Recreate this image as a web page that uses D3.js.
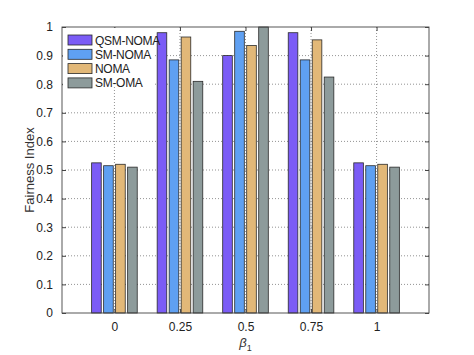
<!DOCTYPE html>
<html><head><meta charset="utf-8">
<script src="https://cdn.jsdelivr.net/npm/d3@7"></script>
<style>body{margin:0;background:#fff}svg{display:block}text{font-family:"Liberation Sans",Arial,sans-serif}</style>
</head><body><svg id="c" width="474" height="355"></svg>
<script>
const categories = [0, 0.25, 0.5, 0.75, 1];
const categoryLabels = ["0", "0.25", "0.5", "0.75", "1"];
const seriesNames = ["QSM-NOMA", "SM-NOMA", "NOMA", "SM-OMA"];
const qsmNoma = [0.525, 0.980, 0.900, 0.980, 0.525];
const smNoma  = [0.515, 0.885, 0.985, 0.885, 0.515];
const noma    = [0.520, 0.965, 0.935, 0.955, 0.520];
const smOma   = [0.510, 0.810, 1.000, 0.825, 0.510];
const seriesValues = [qsmNoma, smNoma, noma, smOma];
const colors = ["#7b5cf6", "#5fa0f2", "#e2b878", "#8d9b9b"];
const yTicks = [0,0.1,0.2,0.3,0.4,0.5,0.6,0.7,0.8,0.9,1];

const svg = d3.select("#c");
const L = 62, R = 429, T = 27, B = 313;
const x = d3.scaleLinear().domain([-0.2, 1.2]).range([L, R]);
const y = d3.scaleLinear().domain([0, 1]).range([B, T]);
const inner = d3.scaleBand().domain(d3.range(seriesNames.length)).range([-24, 24]).paddingInner(0.2).paddingOuter(0.1);

// plot background
svg.append("rect").attr("x", L).attr("y", T).attr("width", R - L).attr("height", B - T).attr("fill", "#fff");

// grid
const grid = svg.append("g").attr("stroke", "#777").attr("stroke-width", 0.8).attr("stroke-dasharray", "1,2");
yTicks.slice(1, -1).forEach(t => grid.append("line").attr("x1", L).attr("x2", R).attr("y1", y(t)).attr("y2", y(t)));
categories.forEach(c => grid.append("line").attr("x1", x(c)).attr("x2", x(c)).attr("y1", T).attr("y2", B));

// bars
const gb = svg.append("g");
seriesValues.forEach((vals, si) => {
  gb.selectAll(null).data(vals).enter().append("rect")
    .attr("x", (d, i) => x(categories[i]) + inner(si))
    .attr("y", d => y(d))
    .attr("width", inner.bandwidth())
    .attr("height", d => B - y(d))
    .attr("fill", colors[si]).attr("stroke", "#2a2a2a").attr("stroke-width", 0.8);
});

// axes box
svg.append("rect").attr("x", L).attr("y", T).attr("width", R - L).attr("height", B - T)
  .attr("fill", "none").attr("stroke", "#444").attr("stroke-width", 0.9);

// left axis ticks & labels
const yAxis = d3.axisLeft(y).tickValues(yTicks).tickSize(-4).tickPadding(9).tickFormat(d3.format("~g"));
const ga = svg.append("g").attr("transform", `translate(${L},0)`).call(yAxis);
ga.select(".domain").remove();
ga.selectAll("line").attr("stroke", "#444");
ga.selectAll("text").attr("font-size", 12).attr("fill", "#222");
// right ticks
const gr = svg.append("g").attr("transform", `translate(${R},0)`).call(d3.axisRight(y).tickValues(yTicks).tickSize(-4).tickFormat(""));
gr.select(".domain").remove(); gr.selectAll("line").attr("stroke", "#444");

// x axis
const xAxis = d3.axisBottom(x).tickValues(categories).tickSize(-4).tickPadding(9).tickFormat((d, i) => categoryLabels[i]);
const gx = svg.append("g").attr("transform", `translate(0,${B})`).call(xAxis);
gx.select(".domain").remove();
gx.selectAll("line").attr("stroke", "#444");
gx.selectAll("text").attr("font-size", 12).attr("fill", "#222");
const gt = svg.append("g").attr("transform", `translate(0,${T})`).call(d3.axisTop(x).tickValues(categories).tickSize(-4).tickFormat(""));
gt.select(".domain").remove(); gt.selectAll("line").attr("stroke", "#444");

// axis labels
svg.append("text").attr("transform", `translate(34,${(T + B) / 2}) rotate(-90)`).attr("text-anchor", "middle")
  .attr("font-size", 13).attr("fill", "#333").text("Fairness Index");
const xl = svg.append("text").attr("x", x(0.5)).attr("y", 347).attr("text-anchor", "middle").attr("font-size", 13).attr("fill", "#333");
xl.append("tspan").attr("font-style", "italic").text("β");
xl.append("tspan").attr("font-size", 9).attr("dy", 4).text("1");

// legend
const lg = svg.append("g");
lg.append("rect").attr("x", L + 1).attr("y", T + 1).attr("width", 92).attr("height", 58).attr("fill", "#fff");
seriesNames.forEach((n, i) => {
  const yy = T + 8 + i * 14.3;
  lg.append("rect").attr("x", 68).attr("y", yy).attr("width", 24).attr("height", 10)
    .attr("fill", colors[i]).attr("stroke", "#2a2a2a").attr("stroke-width", 0.8);
  lg.append("text").attr("x", 95).attr("y", yy + 9.5).attr("font-size", 12).attr("fill", "#222")
    .attr("letter-spacing", -0.3).text(n);
});
</script></body></html>
